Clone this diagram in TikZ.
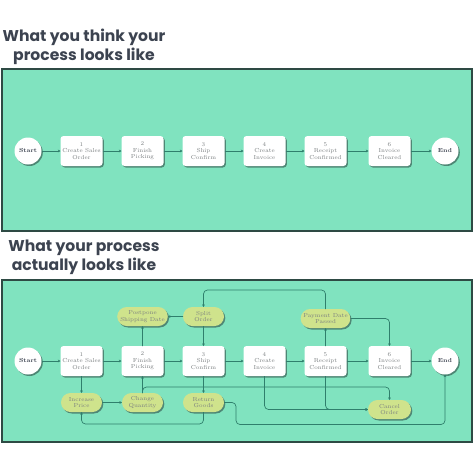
\documentclass[tikz,border=0pt]{standalone}
\usepackage{fontspec}
\newfontfamily\titlefont{Poppins}
\usepackage{tikz}
\usetikzlibrary{arrows.meta,positioning,shapes.misc,shadows}

\definecolor{panelgreen}{HTML}{80E3BF}
\definecolor{framedark}{HTML}{2E4A44}
\definecolor{linkteal}{HTML}{2F7F6C}
\definecolor{pillfill}{HTML}{CFE38C}
\definecolor{titlegray}{HTML}{3C4350}
\definecolor{boxtext}{HTML}{7A7F80}

\begin{document}
\begin{tikzpicture}[
  x=1pt, y=-1pt,
  font=\fontsize{5.8}{6.6}\selectfont,
  panel/.style={draw=framedark, line width=1.8pt, fill=panelgreen},
  heading/.style={font=\titlefont\bfseries\fontsize{15.6}{19}\selectfont, text=titlegray, align=center},
  shade/.style={drop shadow={shadow xshift=1.3pt, shadow yshift=-1.5pt, fill=framedark, opacity=0.6}},
  stepbox/.style={fill=white, rounded corners=3pt, minimum width=42pt, minimum height=30pt,
                  align=center, text=boxtext, inner sep=1pt, outer sep=0pt, shade},
  term/.style={circle, fill=white, minimum size=27pt, inner sep=0pt, outer sep=0pt,
               font=\fontsize{5.8}{6}\selectfont\bfseries, text=titlegray, shade},
  pill/.style={rounded rectangle, fill=pillfill, minimum width=43pt, minimum height=19pt,
               align=center, text=boxtext, inner sep=1pt, outer sep=0pt, shade},
  fl/.style={-{Stealth[length=2.6pt,width=2.6pt]}, draw=linkteal, line width=0.7pt, rounded corners=4pt},
  node distance=19pt,
]
\fill[white] (0,0) rectangle (474,474);
\useasboundingbox (0,0) rectangle (474,474);

% headings and panels
\node[heading] (h1) at (84,47) {What you think your\\process looks like};
\node[heading] (h2) at (84,257) {What your process\\actually looks like};
\draw[panel] (2,69) rectangle (472,231);
\draw[panel] (2,280) rectangle (472,442);

% the main row, once per panel
\foreach \row/\y in {t/151,a/361}{
  \node[term] (\row0) at (28,\y) {Start};
  \node[stepbox, right=of \row0] (\row1) {1\\Create Sales\\Order};
  \node[stepbox, right=of \row1] (\row2) {2\\Finish\\Picking};
  \node[stepbox, right=of \row2] (\row3) {3\\Ship\\Confirm};
  \node[stepbox, right=of \row3] (\row4) {4\\Create\\Invoice};
  \node[stepbox, right=of \row4] (\row5) {5\\Receipt\\Confirmed};
  \node[stepbox, right=22pt of \row5] (\row6) {6\\Invoice\\Cleared};
  \node[term, right=21pt of \row6] (\row7) {End};
  \foreach \a/\b in {0/1,1/2,2/3,3/4,4/5,5/6,6/7} \draw[fl] (\row\a) -- (\row\b);
}

% side steps of the real process
\node[pill, above=20pt of a2] (pp) {Postpone\\Shipping Date};
\node[pill, above=20pt of a3] (split) {Split\\Order};
\node[pill, above=18pt of a5] (pay) {Payment Date\\Passed};
\node[pill, below=17pt of a1] (inc) {Increase\\Price};
\node[pill, below=17pt of a2] (chg) {Change\\Quantity};
\node[pill, below=17pt of a3] (ret) {Return\\Goods};
\node[pill, below=24pt of a6, minimum width=45pt] (cancel) {Cancel\\Order};

\draw[fl] (a2) -- (pp);
\draw[fl] (split) -- (pp);
\draw[fl] (split) -- (a3);
\draw[fl] (pay.north) -- ++(0,-19) -| (split.north);
\draw[fl] (a5) -- (pay);
\draw[fl] (pay.east) -| (a6.north);
\draw[fl] (a1) -- (inc);
\draw[fl] (inc) -- (chg);
\draw[fl] (chg) -- (a2);
\draw[fl] (chg.north) -- ++(0,-6) -| (cancel.north);
\draw[fl] (a3) -- (ret);
\draw[fl] (ret.south) -- ++(0,12) -| (inc.south);
\draw[fl] (ret.east) -- ++(12,0) -- ++(0,22) -| (a7.south);
\draw[fl] (a4.south) |- (cancel.west);
\draw[fl] (a5.south) |- (cancel.west);
\end{tikzpicture}
\end{document}
